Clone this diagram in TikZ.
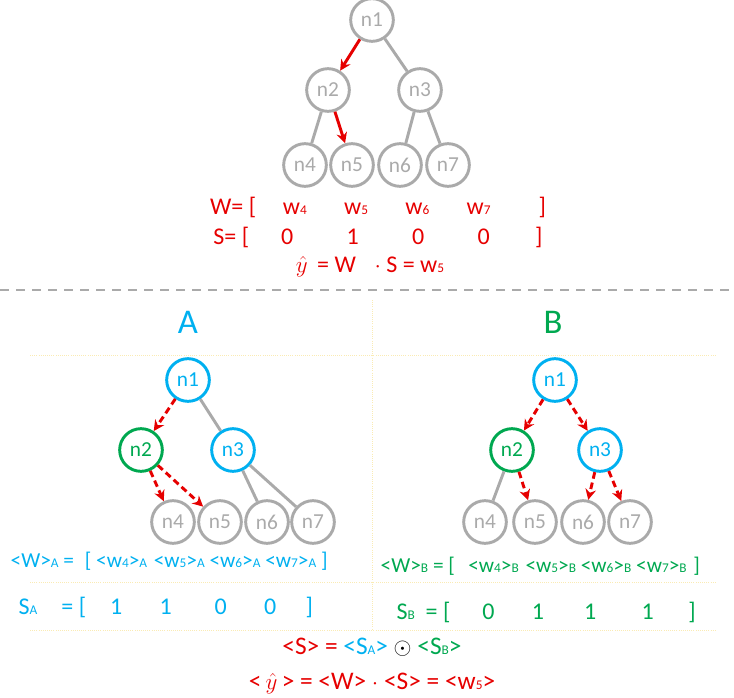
\documentclass[tikz,border=0pt]{standalone}
\usepackage{fontspec}
\setmainfont{Carlito}
\usetikzlibrary{arrows.meta}
\definecolor{cy}{RGB}{0,176,240}
\definecolor{gr}{RGB}{0,168,80}
\definecolor{rd}{RGB}{230,0,0}
\definecolor{gy}{RGB}{170,170,170}
\definecolor{yl}{RGB}{250,235,180}
\newcommand{\mysb}[1]{{\fontsize{10}{10}\selectfont #1}}
\begin{document}
\begin{tikzpicture}[x=0.75pt,y=-0.75pt,
  nd/.style={circle,draw=#1,line width=2.2pt,minimum size=32pt,inner sep=0pt,text=gy,font=\fontsize{16}{16}\selectfont},
  nd/.default=gy,
  ed/.style={gy,line width=2.2pt},
  ar/.style={rd,line width=2.2pt,-{Stealth[length=8pt,width=8pt]}},
  da/.style={rd,line width=2.2pt,dash pattern=on 5pt off 3pt,-{Stealth[length=8pt,width=8pt]}},
  tx/.style={font=\fontsize{18}{18}\selectfont},
  lb/.style={font=\fontsize{16}{16}\selectfont},
  sep/.style={yl,line width=0.6pt,densely dotted}]
\useasboundingbox (0,0) rectangle (734,698);
% top tree
\node[nd] (t1) at (372,20) {n1};
\node[nd] (t2) at (328,90) {n2};
\node[nd] (t3) at (420,90) {n3};
\node[nd] (t4) at (305,165) {n4};
\node[nd] (t5) at (352,165) {n5};
\node[nd] (t6) at (400,165) {n6};
\node[nd] (t7) at (448,165) {n7};
\draw[ar] (t1) -- (t2);
\draw[ed] (t1) -- (t3);
\draw[ed] (t2) -- (t4);
\draw[ar] (t2) -- (t5);
\draw[ed] (t3) -- (t6);
\draw[ed] (t3) -- (t7);
\node[tx,text=rd] (wt) at (378,207) {W= [\hspace{20pt}w\mysb{4}\hspace{28pt}w\mysb{5}\hspace{28pt}w\mysb{6}\hspace{28pt}w\mysb{7}\hspace{36pt}]};
\node[tx,text=rd] (st) at (378,237) {S= [\hspace{24pt}0\hspace{40pt}1\hspace{40pt}0\hspace{40pt}0\hspace{34pt}]};
\node[tx,text=rd] (yt) at (370,267) {$\hat{y}$\, = W\hspace{14pt}$\cdot$ S = w\mysb{5}};
\draw[gy,line width=1.2pt,dash pattern=on 7pt off 5pt] (0,290) -- (734,290);
% separators
\draw[sep] (30,355) -- (715,355);
\draw[sep] (30,582) -- (715,582);
\draw[sep] (30,630) -- (715,630);
\draw[sep] (372,300) -- (372,630);
\node[text=cy,font=\fontsize{26}{26}\selectfont] (la) at (188,322) {A};
\node[text=gr,font=\fontsize{26}{26}\selectfont] (lb) at (553,322) {B};
% tree A
\node[nd=cy] (a1) at (188,380) {};
\node[nd=gr] (a2) at (141,450) {};
\node[nd=cy] (a3) at (233,450) {};
\node[nd] (a4) at (173,522) {n4};
\node[nd] (a5) at (220,522) {n5};
\node[nd] (a6) at (267,522) {n6};
\node[nd] (a7) at (313,522) {n7};
\node[text=cy,lb] at (a1) {n1};
\node[text=gr,lb] at (a2) {n2};
\node[text=cy,lb] at (a3) {n3};
\draw[da] (a1) -- (a2);
\draw[ed] (a1) -- (a3);
\draw[da] (a2) -- (a4);
\draw[da] (a2) -- (a5);
\draw[ed] (a3) -- (a6);
\draw[ed] (a3) -- (a7);
% tree B
\node[nd=cy] (b1) at (555,380) {};
\node[nd=gr] (b2) at (512,450) {};
\node[nd=cy] (b3) at (600,450) {};
\node[nd] (b4) at (485,522) {n4};
\node[nd] (b5) at (535,522) {n5};
\node[nd] (b6) at (583,522) {n6};
\node[nd] (b7) at (630,522) {n7};
\node[text=cy,lb] at (b1) {n1};
\node[text=gr,lb] at (b2) {n2};
\node[text=cy,lb] at (b3) {n3};
\draw[da] (b1) -- (b2);
\draw[da] (b1) -- (b3);
\draw[ed] (b2) -- (b4);
\draw[da] (b2) -- (b5);
\draw[da] (b3) -- (b6);
\draw[da] (b3) -- (b7);
% rows
\node[text=cy,anchor=west,font=\fontsize{16}{16}\selectfont] (wa) at (6,561) {<W>\mysb{A} =\hspace{8pt}[ <w\mysb{4}>\mysb{A}\hspace{5pt}<w\mysb{5}>\mysb{A} <w\mysb{6}>\mysb{A} <w\mysb{7}>\mysb{A} ]};
\node[text=gr,anchor=west,font=\fontsize{16}{16}\selectfont] (wb) at (376,566) {<W>\mysb{B} = [\hspace{10pt}<w\mysb{4}>\mysb{B}\hspace{5pt}<w\mysb{5}>\mysb{B} <w\mysb{6}>\mysb{B} <w\mysb{7}>\mysb{B}\hspace{5pt}]};
\node[tx,text=cy,anchor=west] (sa) at (14,607) {S\mysb{A}\hspace{18pt}= [\hspace{18pt}1\hspace{28pt}1\hspace{32pt}0\hspace{28pt}0\hspace{22pt}]};
\node[tx,text=gr,anchor=west] (sbb) at (392,612) {S\mysb{B}\hspace{8pt}= [\hspace{24pt}0\hspace{28pt}1\hspace{30pt}1\hspace{34pt}1\hspace{26pt}]};
\node[font=\fontsize{19}{19}\selectfont] (se) at (372,647) {\textcolor{rd}{<S> =} \textcolor{cy}{<S\mysb{A}>} $\odot$ \textcolor{gr}{<S\mysb{B}>}};
\node[text=rd,font=\fontsize{19}{19}\selectfont] (ye) at (372,684) {<\,$\hat{y}$\,> = <W> $\cdot$ <S> = <w\mysb{5}>};
\end{tikzpicture}
\end{document}
